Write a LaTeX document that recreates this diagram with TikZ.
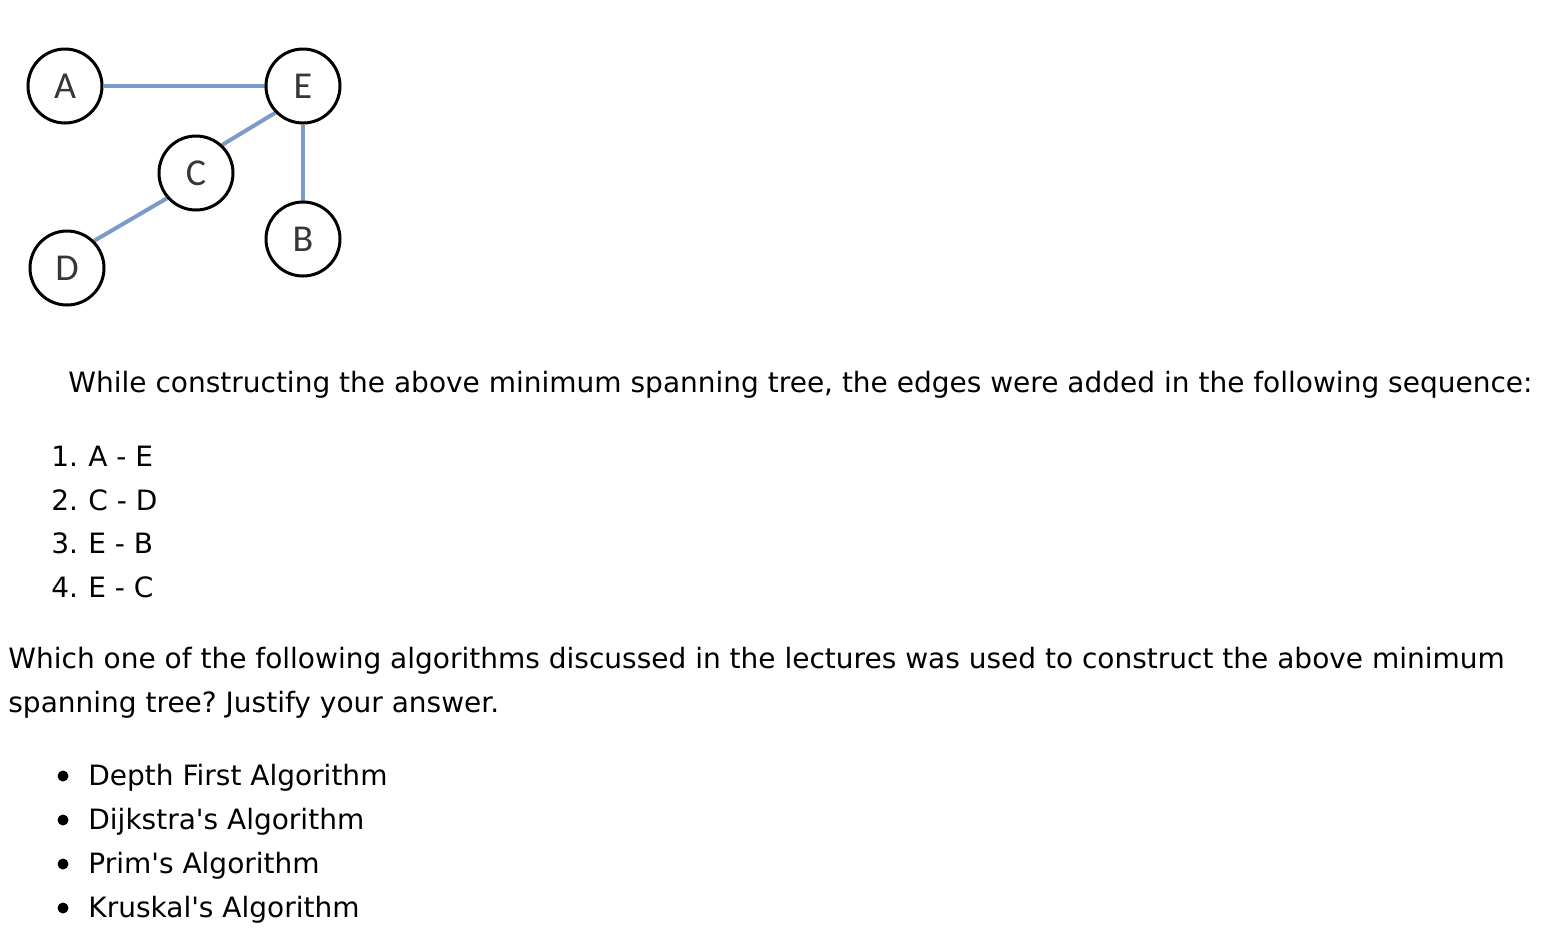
\documentclass[tikz,border=0pt]{standalone}
\usepackage{fontspec}
\setmainfont{DejaVu Sans}
\newfontfamily\nodefont{Carlito}
\definecolor{edgeblue}{RGB}{124,155,200}
\definecolor{lettergray}{RGB}{55,55,55}
\tikzset{
  vtx/.style={circle, draw=black, line width=1.5pt, fill=white, minimum size=37pt, inner sep=0pt,
    font=\nodefont\fontsize{19}{21}\selectfont, text=lettergray},
  mstedge/.style={draw=edgeblue, line width=2pt},
  txt/.style={anchor=base west, inner sep=0pt, font=\frenchspacing\fontsize{14}{16}\selectfont, text=black},
  bul/.style={circle, fill=black, inner sep=0pt, minimum size=5.5pt}
}
\begin{document}
\begin{tikzpicture}[x=0.5pt,y=-0.5pt]
\useasboundingbox (0,0) rectangle (1564,934);
% vertex positions
\coordinate (pA) at (65,86);
\coordinate (pE) at (303,86);
\coordinate (pC) at (196,173);
\coordinate (pB) at (303,239);
\coordinate (pD) at (67,268);
% vertices (shapes only, for edge anchors)
\node[vtx, draw=none, fill=none] (A) at (pA) {};
\node[vtx, draw=none, fill=none] (E) at (pE) {};
\node[vtx, draw=none, fill=none] (C) at (pC) {};
\node[vtx, draw=none, fill=none] (B) at (pB) {};
\node[vtx, draw=none, fill=none] (D) at (pD) {};
% edges
\draw[mstedge] (A.east) -- (E.west);
\draw[mstedge] (E.224) -- (C.47);
\draw[mstedge] (E.south) -- (B.north);
\draw[mstedge] (C.221) -- (D.45);
% visible vertices
\node[vtx] (vA) at (pA) {A};
\node[vtx] (vE) at (pE) {E};
\node[vtx] (vC) at (pC) {C};
\node[vtx] (vB) at (pB) {B};
\node[vtx] (vD) at (pD) {D};
% text
\node[txt] (t1) at (68,392) {While constructing the above minimum spanning tree, the edges were added in the following sequence:};
\node[txt] (l1) at (51,466) {1.};
\node[txt] (l1t) at (88,466) {A - E};
\node[txt] (l2) at (51,510) {2.};
\node[txt] (l2t) at (88,510) {C - D};
\node[txt] (l3) at (51,553) {3.};
\node[txt] (l3t) at (88,553) {E - B};
\node[txt] (l4) at (51,597) {4.};
\node[txt] (l4t) at (88,597) {E - C};
\node[txt] (q1) at (8,668) {Which one of the following algorithms discussed in the lectures was used to construct the above minimum};
\node[txt] (q2) at (8,712) {spanning tree? Justify your answer.};
\node[bul] (b1) at (63,776) {};
\node[txt] (o1) at (88,785) {Depth First Algorithm};
\node[bul] (b2) at (63,820) {};
\node[txt] (o2) at (88,829) {Dijkstra\textquotesingle s Algorithm};
\node[bul] (b3) at (63,864) {};
\node[txt] (o3) at (88,873) {Prim\textquotesingle s Algorithm};
\node[bul] (b4) at (63,908) {};
\node[txt] (o4) at (88,917) {Kruskal\textquotesingle s Algorithm};
\end{tikzpicture}
\end{document}
